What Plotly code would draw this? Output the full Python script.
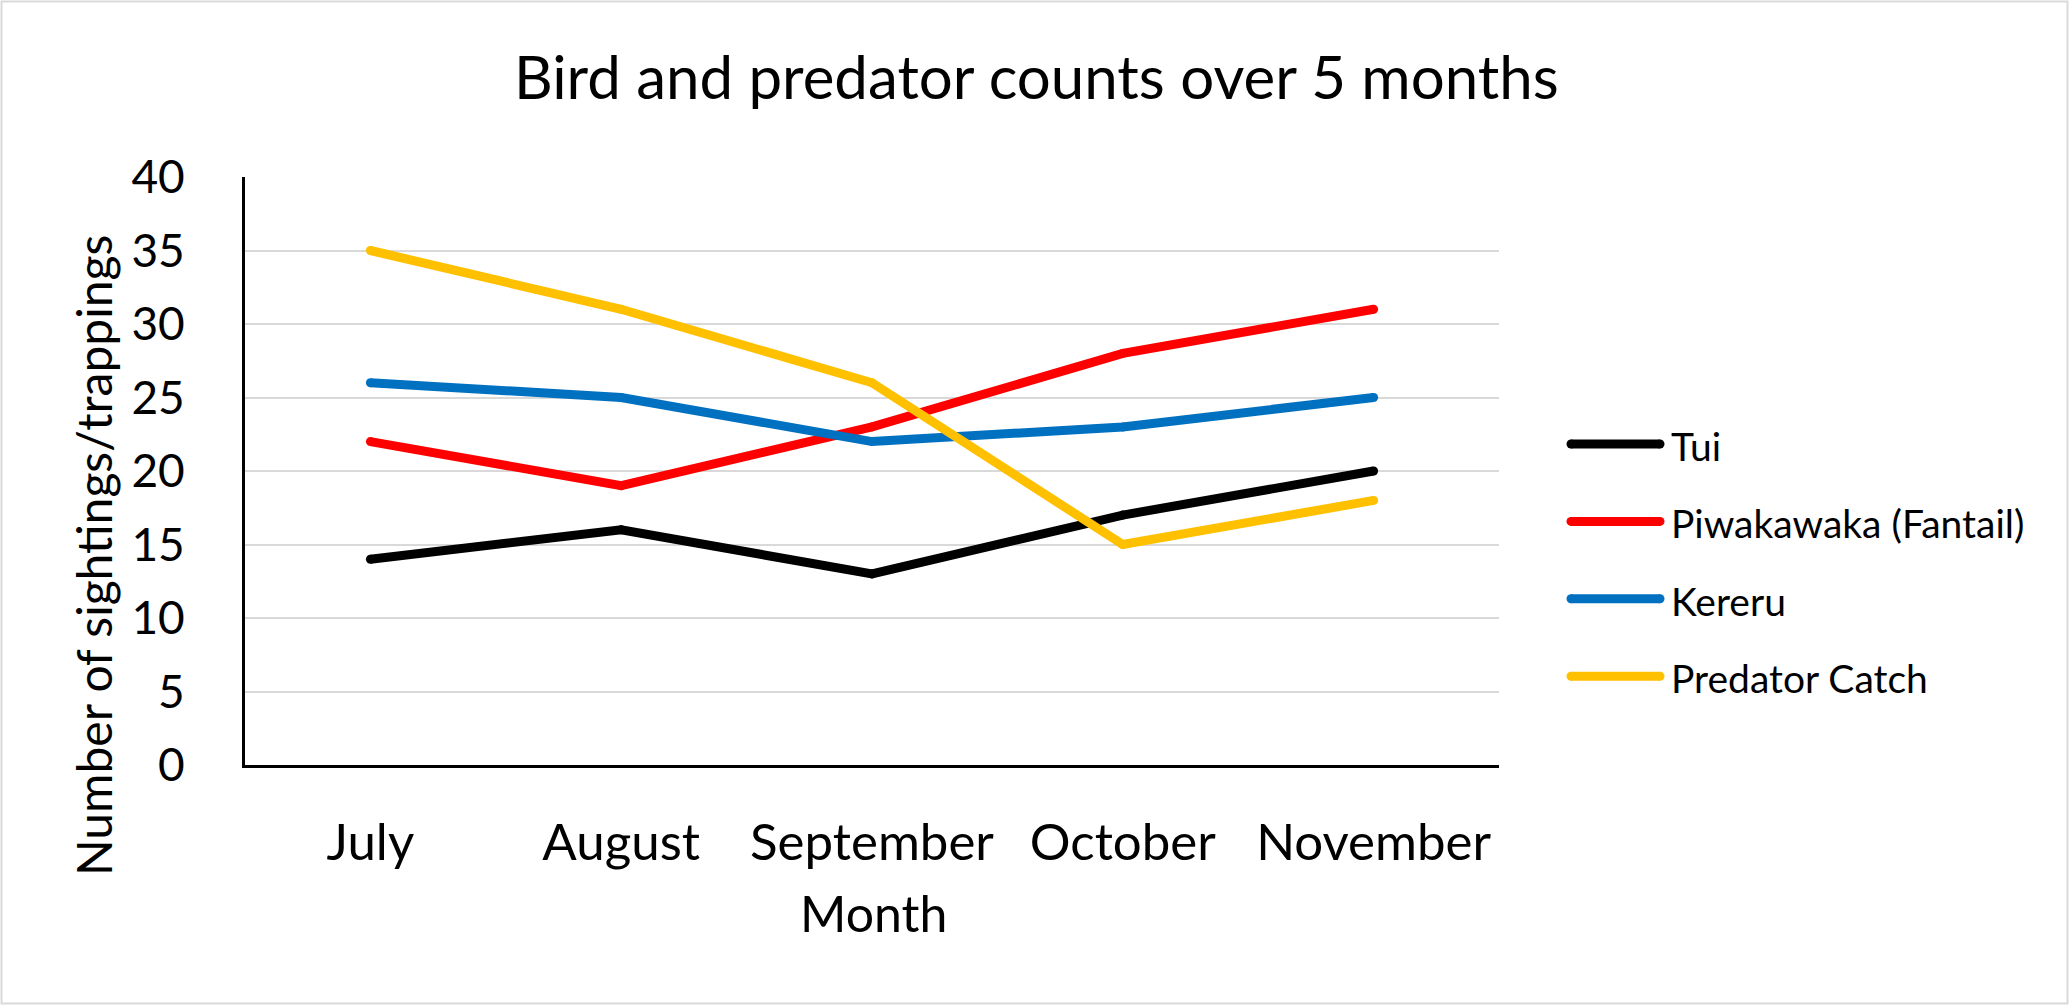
import plotly.graph_objects as go

# ---- data ----
months = ["July", "August", "September", "October", "November"]
tui = [14, 16, 13, 17, 20]
piwakawaka = [22, 19, 23, 28, 31]
kereru = [26, 25, 22, 23, 25]
predator = [35, 31, 26, 15, 18]
series_names = ["Tui", "Piwakawaka (Fantail)", "Kereru", "Predator Catch"]
series_values = [tui, piwakawaka, kereru, predator]
series_colors = ["#000000", "#FF0000", "#0070C0", "#FFC000"]
y_ticks = [0, 5, 10, 15, 20, 25, 30, 35, 40]

# ---- layout geometry (pixels) ----
W, H = 2071, 1007
L, R, T, B = 245, 1499, 177, 765
FONT = "Lato"
LW = 9


def px_x(px):
    return (px - L) / (R - L)


def px_y(py):
    return (B - py) / (B - T)


fig = go.Figure()
for name, vals, col in zip(series_names, series_values, series_colors):
    fig.add_trace(go.Scatter(
        x=months, y=vals, name=name, mode="lines+markers",
        line=dict(color=col, width=LW),
        marker=dict(color=col, size=LW, line=dict(width=0)),
        showlegend=False, hoverinfo="x+y+name",
    ))

shapes = []
annotations = []
# outer chart border
shapes.append(dict(type="rect", xref="paper", yref="paper",
                   x0=px_x(1.5), x1=px_x(W - 3.5), y0=px_y(H - 3.5), y1=px_y(1.5),
                   line=dict(color="#D9D9D9", width=2), fillcolor="rgba(0,0,0,0)",
                   layer="below"))

# manual legend (long line keys like the original)
leg_y0, leg_dy = 444, 77.4
for i, (name, col) in enumerate(zip(series_names, series_colors)):
    yy = leg_y0 + i * leg_dy
    shapes.append(dict(type="line", xref="paper", yref="paper",
                       x0=px_x(1571), x1=px_x(1660), y0=px_y(yy), y1=px_y(yy),
                       line=dict(color=col, width=LW)))
    for cx in (1571, 1660):
        shapes.append(dict(type="circle", xref="paper", yref="paper",
                           x0=px_x(cx - LW / 2), x1=px_x(cx + LW / 2),
                           y0=px_y(yy + LW / 2), y1=px_y(yy - LW / 2),
                           line=dict(width=0), fillcolor=col))
    annotations.append(dict(text=name, xref="paper", yref="paper",
                            x=px_x(1669), y=px_y(yy + 2), xanchor="left", yanchor="middle",
                            showarrow=False, font=dict(family=FONT, size=39, color="#000000")))

# title
annotations.append(dict(text="Bird and predator counts over 5 months", xref="paper", yref="paper",
                        x=px_x(1036), y=px_y(76), xanchor="center", yanchor="middle",
                        showarrow=False, font=dict(family=FONT, size=60, color="#000000")))
# y-axis title (offset like the original)
annotations.append(dict(text="Number of sightings/trappings", xref="paper", yref="paper",
                        x=px_x(93), y=px_y(556), xanchor="center", yanchor="middle",
                        textangle=-90, showarrow=False,
                        font=dict(family=FONT, size=48, color="#000000")))
# x-axis title
annotations.append(dict(text="Month", xref="paper", yref="paper",
                        x=px_x(873), y=px_y(913), xanchor="center", yanchor="middle",
                        showarrow=False, font=dict(family=FONT, size=50, color="#000000")))

fig.update_layout(
    width=W, height=H,
    margin=dict(l=L, r=W - R, t=T, b=H - B, pad=0),
    paper_bgcolor="#FFFFFF", plot_bgcolor="#FFFFFF",
    font=dict(family=FONT, color="#000000"),
    shapes=shapes, annotations=annotations,
    showlegend=False,
)
fig.update_xaxes(
    type="category", categoryorder="array", categoryarray=months,
    range=[-0.5, len(months) - 0.5],
    showline=True, linecolor="#000000", linewidth=3,
    showgrid=False, zeroline=False,
    ticks="outside", ticklen=31, tickcolor="rgba(0,0,0,0)",
    tickfont=dict(family=FONT, size=51, color="#000000"),
)
fig.update_yaxes(
    range=[0, 40], tickvals=y_ticks, ticktext=[str(v) for v in y_ticks],
    showline=True, linecolor="#000000", linewidth=3,
    showgrid=True, gridcolor="#D9D9D9", gridwidth=2, zeroline=False,
    ticks="outside", ticklen=48, tickcolor="rgba(0,0,0,0)",
    tickfont=dict(family=FONT, size=46, color="#000000"),
)

fig.write_html("out.html")
